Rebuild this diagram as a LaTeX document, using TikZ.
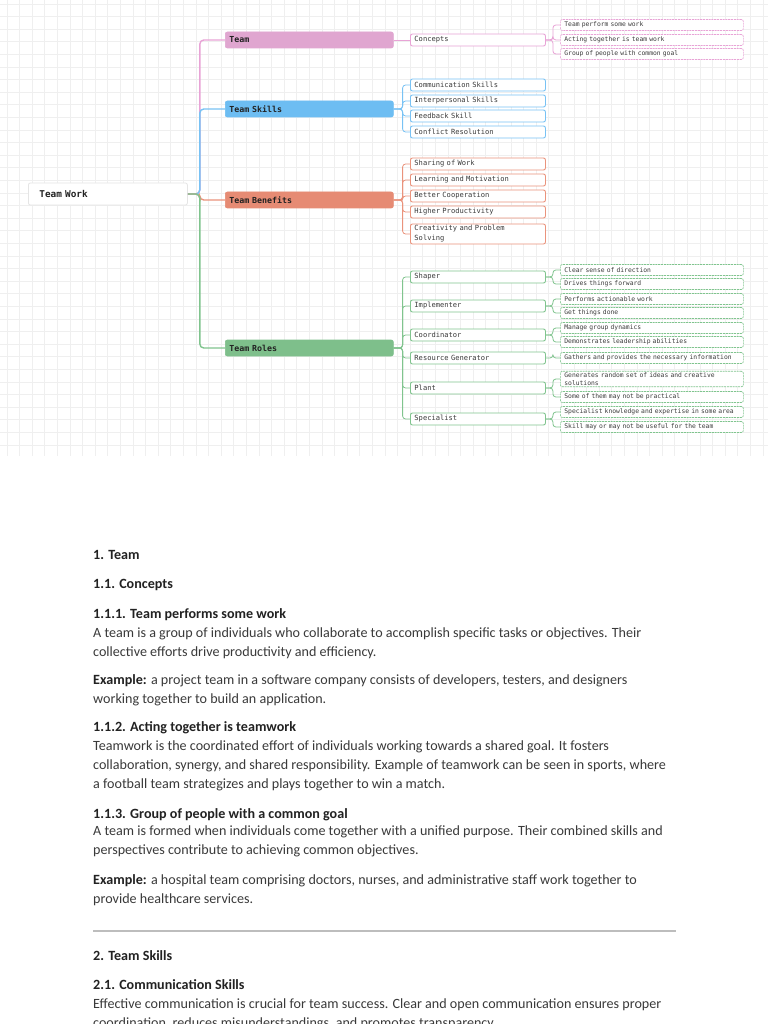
\documentclass[tikz,border=0pt]{standalone}
\usepackage{fontspec}
\setmainfont{Carlito}
\setmonofont{DejaVu Sans Mono}
\usepackage{tikz}

\definecolor{teampink}{HTML}{E0A6D0}
\definecolor{pinkline}{HTML}{E8A3D6}
\definecolor{skillblue}{HTML}{6DBDF2}
\definecolor{blueline}{HTML}{78C2F4}
\definecolor{benefitorange}{HTML}{E68B74}
\definecolor{orangeline}{HTML}{EA937C}
\definecolor{rolegreen}{HTML}{7EBF8B}
\definecolor{greenline}{HTML}{80C48E}
\definecolor{gridgray}{HTML}{EFEFEF}
\definecolor{rulegray}{HTML}{BDBDBD}
\definecolor{inkdark}{HTML}{222222}
\definecolor{inkbody}{HTML}{3A3A3A}

\tikzset{
  rootbox/.style={draw=black!10, fill=white, rounded corners=2pt, line width=0.8pt,
    anchor=west, align=left, text width=137pt, inner xsep=11pt, minimum height=22pt,
    font=\ttfamily\bfseries\fontsize{9.4}{11}\selectfont, text=inkdark},
  topicbox/.style={draw=#1, fill=#1, rounded corners=2pt, line width=0.6pt,
    anchor=west, align=left, text width=160pt, inner xsep=4pt, inner ysep=1pt,
    minimum height=16pt, font=\ttfamily\bfseries\fontsize{8.3}{9}\selectfont, text=inkdark},
  subbox/.style={draw=#1, fill=white, rounded corners=2pt, line width=0.9pt,
    anchor=west, align=left, text width=127pt, inner xsep=4pt, inner ysep=1.5pt,
    minimum height=12pt, font=\ttfamily\fontsize{7.1}{10}\selectfont, text=inkbody},
  leafbox/.style={draw=#1, fill=white, rounded corners=2pt, line width=0.7pt, dashed,
    dash pattern=on 2pt off 0.8pt, anchor=west, align=left, text width=175pt,
    inner xsep=4pt, inner ysep=1pt, minimum height=11pt,
    font=\ttfamily\fontsize{6.35}{8.5}\selectfont, text=inkbody},
  trunk/.style={draw=#1, line width=1.4pt, rounded corners=4pt},
  twig/.style={draw=#1, line width=0.8pt, rounded corners=3pt},
  doctext/.style={anchor=base west, inner sep=0pt, text=inkbody,
    font=\fontsize{14.1}{17}\selectfont},
  dochead/.style={doctext, text=inkdark, font=\bfseries\fontsize{14.1}{17}\selectfont}
}

\begin{document}
\begin{tikzpicture}[x=1pt, y=-1pt]
  \clip (0,0) rectangle (768,1024);
  \fill[white] (0,0) rectangle (768,1024);

  % grid behind the map
  \foreach \gx in {0,...,60}
    \draw[gridgray, line width=0.7pt] (7+12.6*\gx,0) -- (7+12.6*\gx,456);
  \foreach \gy in {0,...,35}
    \draw[gridgray, line width=0.7pt] (0,4+12.6*\gy) -- (768,4+12.6*\gy);

  % root and the four topics
  \node[rootbox] (root) at (28,194) {Team Work};
  \node[topicbox=teampink] (team) at (225,40) {Team};
  \node[topicbox=skillblue] (skills) at (225,109) {Team Skills};
  \node[topicbox=benefitorange] (benefits) at (225,200) {Team Benefits};
  \node[topicbox=rolegreen] (roles) at (225,348) {Team Roles};

  \draw[trunk=pinkline] (root.east) -- ++(12,0) |- (team.west);
  \draw[trunk=blueline] (root.east) -- ++(12,0) |- (skills.west);
  \draw[trunk=orangeline] (root.east) -- ++(12,0) |- (benefits.west);
  \draw[trunk=greenline] (root.east) -- ++(12,0) |- (roles.west);

  % Team
  \node[subbox=pinkline] (concepts) at (410,40) {Concepts};
  \draw[twig=pinkline] (team.east) -- (concepts.west);
  \node[leafbox=pinkline] (tp1) at (560,25) {Team perform some work};
  \node[leafbox=pinkline] (tp2) at (560,40) {Acting together is team work};
  \node[leafbox=pinkline] (tp3) at (560,54) {Group of people with common goal};
  \foreach \leaf in {tp1,tp2,tp3}
    \draw[twig=pinkline] (concepts.east) -- ++(7,0) |- (\leaf.west);

  % Team Skills
  \node[subbox=blueline] (comm) at (410,85) {Communication Skills};
  \node[subbox=blueline] (inter) at (410,101) {Interpersonal Skills};
  \node[subbox=blueline] (feedback) at (410,116) {Feedback Skill};
  \node[subbox=blueline] (conflict) at (410,132) {Conflict Resolution};
  \foreach \sub in {comm,inter,feedback,conflict}
    \draw[twig=blueline] (skills.east) -- ++(9,0) |- (\sub.west);

  % Team Benefits
  \node[subbox=orangeline] (sharing) at (410,164) {Sharing of Work};
  \node[subbox=orangeline] (learning) at (410,180) {Learning and Motivation};
  \node[subbox=orangeline] (coop) at (410,196) {Better Cooperation};
  \node[subbox=orangeline] (product) at (410,212) {Higher Productivity};
  \node[subbox=orangeline] (creative) at (410,234) {Creativity and Problem\\Solving};
  \foreach \sub in {sharing,learning,coop,product,creative}
    \draw[twig=orangeline] (benefits.east) -- ++(9,0) |- (\sub.west);

  % Team Roles
  \node[subbox=greenline] (shaper) at (410,277) {Shaper};
  \node[subbox=greenline] (implementer) at (410,306) {Implementer};
  \node[subbox=greenline] (coordinator) at (410,335) {Coordinator};
  \node[subbox=greenline] (resource) at (410,358) {Resource Generator};
  \node[subbox=greenline] (plant) at (410,388) {Plant};
  \node[subbox=greenline] (specialist) at (410,419) {Specialist};
  \foreach \sub in {shaper,implementer,coordinator,resource,plant,specialist}
    \draw[twig=greenline] (roles.east) -- ++(9,0) |- (\sub.west);

  \node[leafbox=greenline] (sh1) at (560,270) {Clear sense of direction};
  \node[leafbox=greenline] (sh2) at (560,284) {Drives things forward};
  \node[leafbox=greenline] (im1) at (560,299) {Performs actionable work};
  \node[leafbox=greenline] (im2) at (560,313) {Get things done};
  \node[leafbox=greenline] (co1) at (560,328) {Manage group dynamics};
  \node[leafbox=greenline] (co2) at (560,342) {Demonstrates leadership abilities};
  \node[leafbox=greenline] (rg1) at (560,358) {Gathers and provides the necessary information};
  \node[leafbox=greenline] (pl1) at (560,379) {Generates random set of ideas and creative\\solutions};
  \node[leafbox=greenline] (pl2) at (560,397) {Some of them may not be practical};
  \node[leafbox=greenline] (sp1) at (560,412) {Specialist knowledge and expertise in some area};
  \node[leafbox=greenline] (sp2) at (560,427) {Skill may or may not be useful for the team};
  \foreach \role/\leaf in {shaper/sh1,shaper/sh2,implementer/im1,implementer/im2,
      coordinator/co1,coordinator/co2,resource/rg1,plant/pl1,plant/pl2,
      specialist/sp1,specialist/sp2}
    \draw[twig=greenline] (\role.east) -- ++(7,0) |- (\leaf.west);

  % notes below the map
  \node[dochead] (h1) at (93,559) {1. Team};
  \node[dochead] (h11) at (93,588) {1.1. Concepts};
  \node[dochead] (h111) at (93,618) {1.1.1. Team performs some work};
  \node[doctext] (t111a) at (93,637) {A team is a group of individuals who collaborate to accomplish specific tasks or objectives. Their};
  \node[doctext] (t111b) at (93,656) {collective efforts drive productivity and efficiency.};
  \node[doctext] (e111a) at (93,684) {\textbf{\color{inkdark}Example:} a project team in a software company consists of developers, testers, and designers};
  \node[doctext] (e111b) at (93,703) {working together to build an application.};
  \node[dochead] (h112) at (93,731) {1.1.2. Acting together is teamwork};
  \node[doctext] (t112a) at (93,750) {Teamwork is the coordinated effort of individuals working towards a shared goal. It fosters};
  \node[doctext] (t112b) at (93,769) {collaboration, synergy, and shared responsibility. Example of teamwork can be seen in sports, where};
  \node[doctext] (t112c) at (93,788) {a football team strategizes and plays together to win a match.};
  \node[dochead] (h113) at (93,818) {1.1.3. Group of people with a common goal};
  \node[doctext] (t113a) at (93,835) {A team is formed when individuals come together with a unified purpose. Their combined skills and};
  \node[doctext] (t113b) at (93,854) {perspectives contribute to achieving common objectives.};
  \node[doctext] (e113a) at (93,884) {\textbf{\color{inkdark}Example:} a hospital team comprising doctors, nurses, and administrative staff work together to};
  \node[doctext] (e113b) at (93,903) {provide healthcare services.};

  \draw[rulegray, line width=1.5pt] (93,931) -- (676,931);

  \node[dochead] (h2) at (93,960) {2. Team Skills};
  \node[dochead] (h21) at (93,989) {2.1. Communication Skills};
  \node[doctext] (t21a) at (93,1008) {Effective communication is crucial for team success. Clear and open communication ensures proper};
  \node[doctext] (t21b) at (93,1027) {coordination, reduces misunderstandings, and promotes transparency.};
\end{tikzpicture}
\end{document}
